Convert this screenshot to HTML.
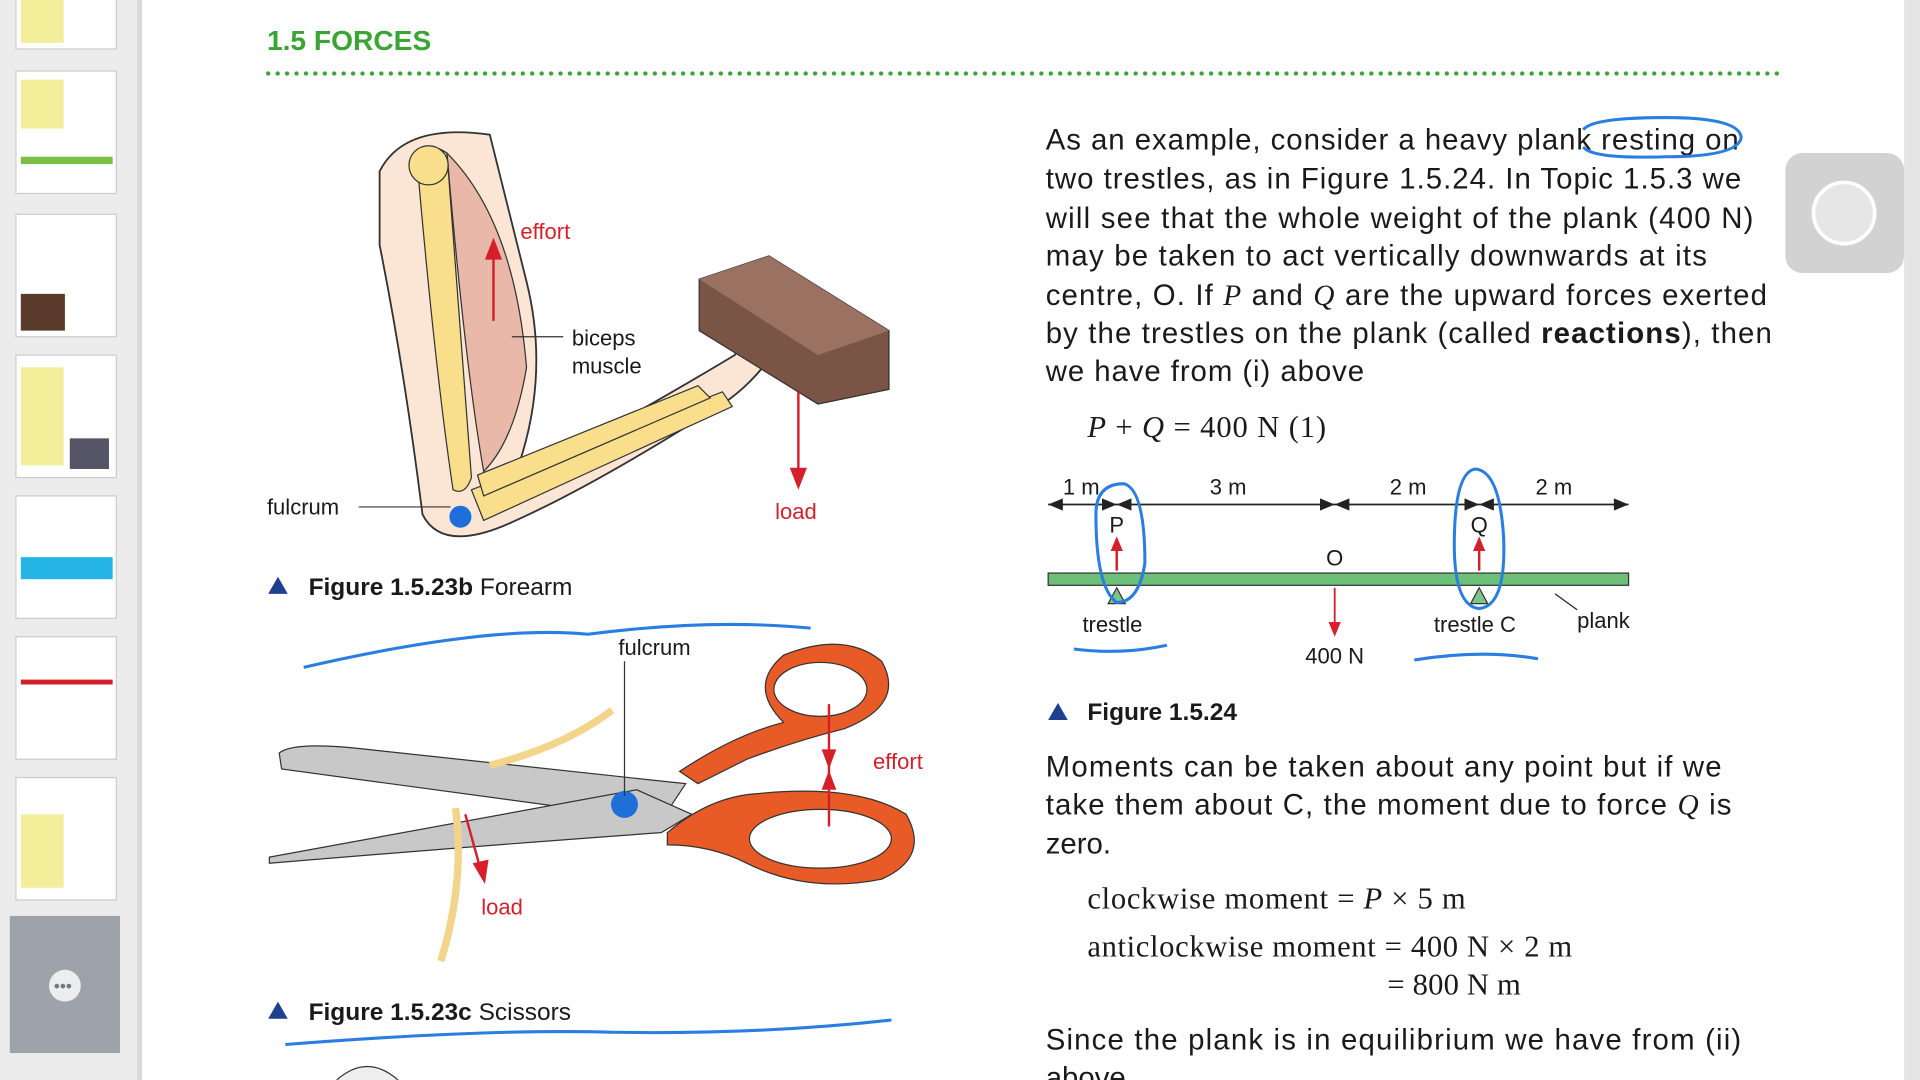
<!DOCTYPE html>
<html><head><meta charset="utf-8"><style>
html,body{margin:0;padding:0;background:#fff;overflow:hidden}
svg{display:block}
.t{font-family:"Liberation Sans","DejaVu Sans",sans-serif;font-size:24px;fill:#1a1a1a}
.s{font-family:"Liberation Serif",serif;font-size:25px;fill:#1a1a1a}
.l{font-family:"Liberation Sans",sans-serif;font-size:18px;fill:#1a1a1a}
.r{font-family:"Liberation Sans",sans-serif;font-size:18px;fill:#d4202a}
.c{font-family:"Liberation Sans",sans-serif;font-size:20px;fill:#1a1a1a}
</style></head><body>
<svg width="1920" height="1080" viewBox="0 0 1568 882" xmlns="http://www.w3.org/2000/svg">
<rect width="1568" height="882" fill="#fff"/>
<!-- sidebar -->
<rect x="0" y="0" width="115" height="882" fill="#ececec"/>
<rect x="112" y="0" width="4" height="882" fill="#d8d8d8"/>
<g fill="#fff" stroke="#ccc">
<rect x="13" y="-5" width="82" height="45"/>
<rect x="13" y="58" width="82" height="100"/>
<rect x="13" y="175" width="82" height="100"/>
<rect x="13" y="290" width="82" height="100"/>
<rect x="13" y="405" width="82" height="100"/>
<rect x="13" y="520" width="82" height="100"/>
<rect x="13" y="635" width="82" height="100"/>
</g>
<g fill="#f2ee9a"><rect x="17" y="0" width="35" height="35"/><rect x="17" y="65" width="35" height="40"/><rect x="17" y="300" width="35" height="80"/><rect x="17" y="665" width="35" height="60"/></g>
<rect x="17" y="455" width="75" height="18" fill="#25b4e6"/>
<rect x="17" y="555" width="75" height="4" fill="#d4202a"/>
<rect x="17" y="128" width="75" height="6" fill="#7bbf44"/>
<rect x="17" y="240" width="36" height="30" fill="#5a3a2a"/>
<rect x="57" y="358" width="32" height="25" fill="#556"/>
<rect x="8" y="748" width="90" height="112" fill="#9ea3ab"/>
<circle cx="53" cy="805" r="13" fill="#fff" opacity=".8"/>
<text x="44" y="810" font-size="14" fill="#777" font-family="Liberation Sans">•••</text>
<rect x="1555" y="0" width="13" height="882" fill="#e4e4e4"/>
<rect x="1458" y="125" width="97" height="98" rx="14" fill="#d2d2d2"/>
<circle cx="1506" cy="174" r="25" fill="#e6e6e6" stroke="#fff" stroke-width="3"/>
<!-- heading -->
<text x="218" y="41" font-family="Liberation Sans" font-weight="bold" font-size="23" fill="#3aa535">1.5 FORCES</text>
<line x1="219" y1="60" x2="1458" y2="60" stroke="#3aa535" stroke-width="3.5" stroke-dasharray="0.1 7.6" stroke-linecap="round"/>
<!-- arm -->
<path d="M310 140 Q330 100 400 110 Q410 150 430 230 Q450 310 420 390 Q500 350 600 290 Q620 260 630 250 L640 275 Q620 310 590 330 Q480 400 410 430 Q360 450 345 420 Q330 300 310 200 Z" fill="#fbe6d6" stroke="#333" stroke-width="1.5"/>
<path d="M365 125 Q420 180 430 300 Q420 360 395 385 Q380 300 365 125Z" fill="#e9b8a8" stroke="#333"/>
<path d="M340 125 Q350 115 365 125 L385 390 Q380 405 370 400 Q355 300 340 125Z" fill="#f9df8c" stroke="#333"/>
<circle cx="350" cy="135" r="16" fill="#f9df8c" stroke="#333"/>
<path d="M385 400 L590 320 L598 332 L395 425 Z" fill="#f9df8c" stroke="#333"/>
<path d="M390 388 L570 315 L580 325 L395 405Z" fill="#f9df8c" stroke="#333"/>
<circle cx="376" cy="422" r="9" fill="#1e6fd9"/>
<path d="M571 228 L628 209 L726 270 L726 318 L668 330 L571 270Z" fill="#7a5546" stroke="#333"/>
<path d="M571 228 L628 209 L726 270 L668 290Z" fill="#9b7261"/>
<line x1="403" y1="262" x2="403" y2="200" stroke="#d4202a" stroke-width="2"/><path d="M396 212 L403 194 L410 212Z" fill="#d4202a"/>
<line x1="652" y1="320" x2="652" y2="388" stroke="#d4202a" stroke-width="2"/><path d="M645 382 L652 400 L659 382Z" fill="#d4202a"/>
<text x="425" y="195" class="r">effort</text>
<line x1="418" y1="275" x2="460" y2="275" stroke="#333"/>
<text x="467" y="282" class="l">biceps</text><text x="467" y="305" class="l">muscle</text>
<text x="218" y="420" class="l">fulcrum</text><line x1="293" y1="414" x2="368" y2="414" stroke="#333"/>
<text x="633" y="424" class="r">load</text>
<path d="M219 485 L235 485 L227 471Z" fill="#1f3f8f"/>
<text x="252" y="486" class="c"><tspan font-weight="bold">Figure 1.5.23b</tspan> Forearm</text>
<!-- scissors -->
<path d="M248 545 Q400 510 480 518 Q580 505 662 513" fill="none" stroke="#2a7ee0" stroke-width="2.5"/>
<path d="M228 615 Q240 605 300 612 L560 640 L540 670 L230 628Z" fill="#c8c8c8" stroke="#333"/>
<path d="M220 700 L520 645 L565 665 L540 680 Q400 690 220 705Z" fill="#c8c8c8" stroke="#333"/>
<path d="M555 630 Q600 600 640 590 Q610 560 640 535 Q690 515 720 540 Q740 575 690 595 Q650 605 610 620 L570 640Z" fill="#e85b26" stroke="#333"/>
<ellipse cx="670" cy="563" rx="38" ry="22" fill="#fff" stroke="#333"/>
<path d="M545 680 Q580 650 620 648 Q700 640 740 665 Q760 700 720 718 Q660 730 610 705 Q580 690 545 690Z" fill="#e85b26" stroke="#333"/>
<ellipse cx="670" cy="685" rx="58" ry="24" fill="#fff" stroke="#333"/>
<path d="M400 625 Q460 610 500 580" fill="none" stroke="#f2d58a" stroke-width="6"/>
<path d="M372 660 Q380 720 360 785" fill="none" stroke="#f2d58a" stroke-width="6"/>
<circle cx="510" cy="657" r="11" fill="#1e6fd9"/>
<line x1="510" y1="540" x2="510" y2="650" stroke="#333"/>
<text x="505" y="535" class="l">fulcrum</text>
<line x1="677" y1="575" x2="677" y2="675" stroke="#d4202a" stroke-width="2"/>
<path d="M671 612 L677 628 L683 612Z M671 645 L677 629 L683 645Z" fill="#d4202a"/>
<text x="713" y="628" class="r">effort</text>
<line x1="380" y1="665" x2="393" y2="712" stroke="#d4202a" stroke-width="2"/><path d="M386 705 L396 722 L399 702Z" fill="#d4202a"/>
<text x="393" y="747" class="r">load</text>
<path d="M219 832 L235 832 L227 818Z" fill="#1f3f8f"/>
<text x="252" y="833" class="c"><tspan font-weight="bold">Figure 1.5.23c</tspan> Scissors</text>
<path d="M233 853 Q400 840 500 843 Q620 845 728 833" fill="none" stroke="#2a7ee0" stroke-width="2.5"/>
<path d="M275 882 Q300 860 325 882" fill="#eee" stroke="#333"/>
<!-- right text -->
<g class="t">
<text x="854" y="122" textLength="566">As an example, consider a heavy plank resting on</text>
<text x="854" y="154" textLength="568">two trestles, as in Figure 1.5.24. In Topic 1.5.3 we</text>
<text x="854" y="186" textLength="578">will see that the whole weight of the plank (400 N)</text>
<text x="854" y="217" textLength="540">may be taken to act vertically downwards at its</text>
<text x="854" y="249" textLength="589">centre, O. If <tspan font-family="Liberation Serif" font-style="italic">P</tspan> and <tspan font-family="Liberation Serif" font-style="italic">Q</tspan> are the upward forces exerted</text>
<text x="854" y="280" textLength="593">by the trestles on the plank (called <tspan font-weight="bold">reactions</tspan>), then</text>
<text x="854" y="311" textLength="260">we have from (i) above</text>
<text x="854" y="634" textLength="552">Moments can be taken about any point but if we</text>
<text x="854" y="665" textLength="560">take them about C, the moment due to force <tspan font-family="Liberation Serif" font-style="italic">Q</tspan> is</text>
<text x="854" y="697">zero.</text>
<text x="854" y="857" textLength="568">Since the plank is in equilibrium we have from (ii)</text>
<text x="854" y="888">above</text>
</g>
<path d="M1293 106 Q1300 96 1360 96 Q1420 96 1422 112 Q1420 128 1360 128 Q1300 130 1293 120" fill="none" stroke="#2a7ee0" stroke-width="2.5"/>
<text x="888" y="357" class="s" textLength="195"><tspan font-style="italic">P</tspan> + <tspan font-style="italic">Q</tspan> = 400 N  (1)</text>
<text x="888" y="742" class="s" textLength="309">clockwise moment = <tspan font-style="italic">P</tspan> × 5 m</text>
<text x="888" y="781" class="s" textLength="396">anticlockwise moment = 400 N × 2 m</text>
<text x="1133" y="812" class="s" textLength="109">= 800 N m</text>
<!-- plank diagram -->
<g stroke="#222" stroke-width="1.5">
<line x1="856" y1="412" x2="1330" y2="412"/>
<line x1="1090" y1="480" x2="1090" y2="512" stroke="#d4202a"/>
</g>
<g fill="#222">
<path d="M856 412 L868 407 L868 417Z"/><path d="M912 412 L900 407 L900 417Z"/><path d="M912 412 L924 407 L924 417Z"/>
<path d="M1090 412 L1078 407 L1078 417Z"/><path d="M1090 412 L1102 407 L1102 417Z"/>
<path d="M1208 412 L1196 407 L1196 417Z"/><path d="M1208 412 L1220 407 L1220 417Z"/><path d="M1330 412 L1318 407 L1318 417Z"/>
</g>
<rect x="856" y="468" width="474" height="10" fill="#6cc07a" stroke="#333"/>
<path d="M905 493 L912 480 L919 493Z M1201 493 L1208 480 L1215 493Z" fill="#7cc48a" stroke="#333"/>
<g stroke="#d4202a" stroke-width="2"><line x1="912" y1="466" x2="912" y2="445"/><line x1="1208" y1="466" x2="1208" y2="445"/></g>
<path d="M907 450 L912 438 L917 450Z M1203 450 L1208 438 L1213 450Z M1085 508 L1090 520 L1095 508Z" fill="#d4202a"/>
<g class="l">
<text x="868" y="404">1 m</text><text x="988" y="404">3 m</text><text x="1135" y="404">2 m</text><text x="1254" y="404">2 m</text>
<text x="906" y="435">P</text><text x="1201" y="435">Q</text><text x="1083" y="462">O</text>
<text x="884" y="516">trestle</text><text x="1171" y="516">trestle C</text><text x="1288" y="513">plank</text><text x="1066" y="542">400 N</text>
</g>
<line x1="1270" y1="485" x2="1288" y2="498" stroke="#222"/>
<path d="M918 395 Q895 395 895 420 Q895 480 912 492 Q930 492 935 460 Q935 400 918 395Z" fill="none" stroke="#2a7ee0" stroke-width="2.5"/>
<path d="M1205 383 Q1190 385 1188 430 Q1185 495 1208 497 Q1230 495 1228 440 Q1225 385 1205 383Z" fill="none" stroke="#2a7ee0" stroke-width="2.5"/>
<path d="M877 530 Q915 535 953 527" fill="none" stroke="#2a7ee0" stroke-width="2.5"/>
<path d="M1155 539 Q1210 530 1256 538" fill="none" stroke="#2a7ee0" stroke-width="2.5"/>
<path d="M856 588 L872 588 L864 574Z" fill="#1f3f8f"/>
<text x="888" y="588" class="c" font-weight="bold">Figure 1.5.24</text>
</g>
</svg>
</body></html>
